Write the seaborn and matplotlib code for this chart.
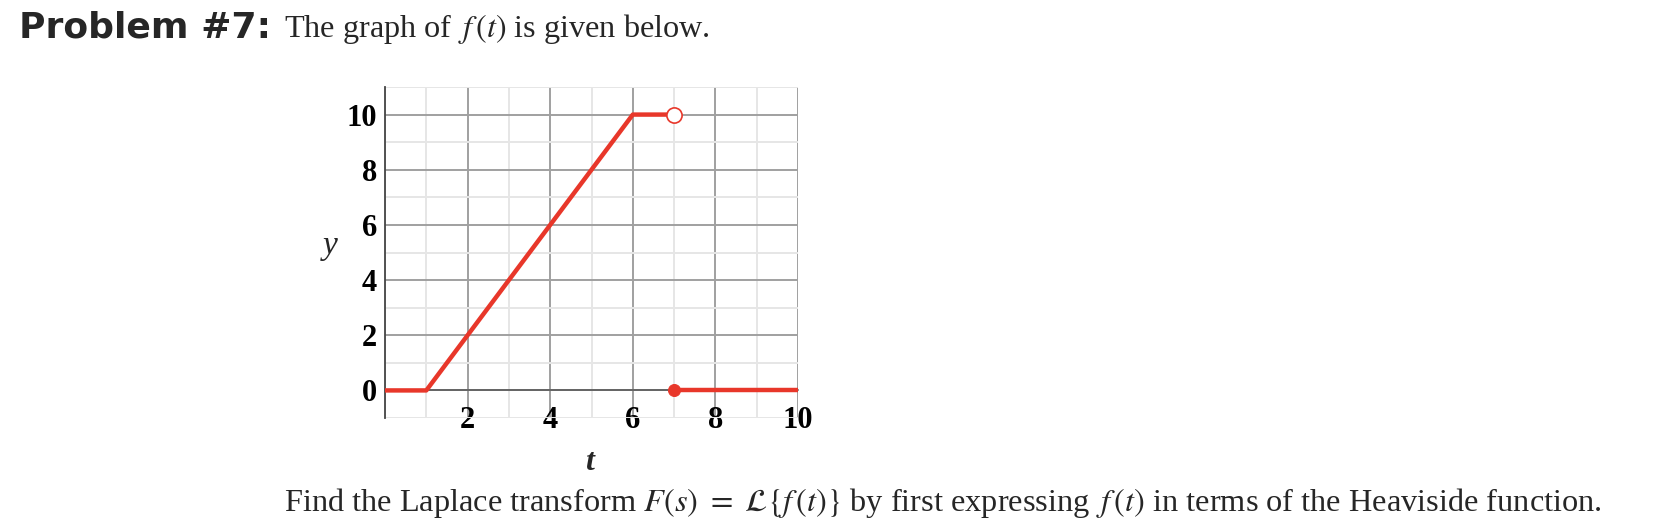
import numpy as np
import pandas as pd
import matplotlib.pyplot as plt
import seaborn as sns
from matplotlib.ticker import MultipleLocator

# piecewise f(t): ramp from 1 to 6, flat to 7, then jumps down to 0
t_vals = [0, 1, 6, 7, 7, 10]
y_vals = [0, 0, 10, 10, 0, 0]
piece = [1, 1, 1, 1, 2, 2]
open_pt = (7, 10)
closed_pt = (7, 0)
x_ticks = [2, 4, 6, 8, 10]
y_ticks = [0, 2, 4, 6, 8, 10]

red = '#e8372a'

sns.set_style('white')
plt.rcParams['font.family'] = ['Liberation Serif', 'DejaVu Serif']
plt.rcParams['mathtext.fontset'] = 'stix'

df = pd.DataFrame({'t': t_vals, 'y': y_vals, 'piece': piece})

fig = plt.figure(figsize=(16.6, 5.3), dpi=100)
ax = fig.add_axes([385 / 1660, 1 - 418 / 530, 413 / 1660, 331 / 530])

sns.lineplot(data=df, x='t', y='y', units='piece', estimator=None,
             color=red, linewidth=3.2, ax=ax, zorder=5, solid_capstyle='butt')
sns.scatterplot(x=[closed_pt[0]], y=[closed_pt[1]], color=red, s=75,
                edgecolor=red, ax=ax, zorder=6)
sns.scatterplot(x=[open_pt[0]], y=[open_pt[1]], facecolor='white', s=120,
                edgecolor=red, linewidth=1.2, ax=ax, zorder=6)

ax.set_xlim(0, 10)
ax.set_ylim(-1, 11)
ax.xaxis.set_minor_locator(MultipleLocator(1))
ax.yaxis.set_minor_locator(MultipleLocator(1))

ax.grid(which='major', color='#a0a0a0', linewidth=1.4, zorder=0)
ax.grid(which='minor', color='#e6e6e6', linewidth=1.4, zorder=0)
ax.set_axisbelow(True)

for side in ['top', 'right']:
    ax.spines[side].set_visible(False)
ax.spines['left'].set_position(('data', 0))
ax.spines['bottom'].set_position(('data', 0))
ax.spines['left'].set_color('#444444')
ax.spines['bottom'].set_color('#555555')
ax.spines['left'].set_linewidth(1.3)
ax.spines['bottom'].set_linewidth(1.1)

ax.tick_params(axis='both', which='both', direction='out', colors='#444444',
               width=1, labelcolor='black', labelsize=22)
ax.tick_params(axis='x', which='major', length=3, pad=8)
ax.tick_params(axis='x', which='minor', length=3)
ax.tick_params(axis='y', which='major', length=3, pad=2.5)
ax.tick_params(axis='y', which='minor', length=3)

ax.set_xticks(x_ticks, labels=[str(v) for v in x_ticks],
              fontsize=22, fontweight='bold')
ax.set_yticks(y_ticks, labels=[str(v) for v in y_ticks],
              fontsize=22, fontweight='bold')

ax.set_xlabel('t', fontsize=23, style='italic', fontweight='bold')
ax.set_ylabel('y', fontsize=24, style='italic', rotation=0, va='center')
ax.xaxis.set_label_coords(0.496, -0.092)
ax.yaxis.set_label_coords(-0.133, 0.52)

fig.text(19 / 1660, 1 - 37 / 530, 'Problem #7:', family='DejaVu Sans',
         fontweight='bold', fontsize=26, va='baseline')
fig.text(284 / 1660, 1 - 37 / 530, 'The graph of $\\,f\\,(t)$ is given below.',
         fontsize=23.2, va='baseline')
fig.text(284 / 1660, 1 - 511 / 530,
         'Find the Laplace transform $F(s)\\ =\\ \\mathcal{L}\\{f\\,(t)\\}$ by first '
         'expressing $\\,f\\,(t)$ in terms of the Heaviside function.',
         fontsize=23.3, va='baseline')

fig.savefig('out.png', dpi=100)
